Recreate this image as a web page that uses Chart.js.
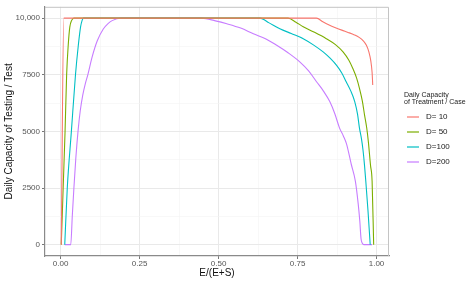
<!DOCTYPE html>
<html>
<head>
<meta charset="utf-8">
<script src="https://cdn.jsdelivr.net/npm/chart.js@4/dist/chart.umd.min.js"></script>
<style>
html,body{margin:0;padding:0;background:#fff;}
#c{display:block;}
</style>
</head>
<body>
<canvas id="c" width="474" height="284"></canvas>
<script>
// ---- Data ----
const seriesNames = ["D= 10", "D= 50", "D=100", "D=200"];
const seriesColors = ["#F8766D", "#7CAE00", "#00BFC4", "#C77CFF"];

const d10X = [0.002, 0.010, 0.81, 0.83, 0.85, 0.87, 0.89, 0.91, 0.93, 0.945, 0.958, 0.968, 0.976, 0.982, 0.986, 0.988];
const d10Y = [0, 10000, 10000, 9840, 9700, 9580, 9470, 9370, 9260, 9150, 9000, 8800, 8500, 8100, 7600, 7050];

const d50X = [0.002, 0.008, 0.014, 0.019, 0.024, 0.029, 0.035, 0.042, 0.72, 0.745, 0.768, 0.80, 0.841, 0.87, 0.894, 0.912, 0.925, 0.937, 0.946, 0.955, 0.962, 0.969, 0.974, 0.981, 0.986, 0.991];
const d50Y = [0, 2500, 5000, 7500, 8800, 9600, 9900, 10000, 10000, 9820, 9620, 9400, 9092, 8830, 8509, 8150, 7778, 7350, 6900, 6350, 5732, 5150, 4561, 3500, 2807, 0];

const d100X = [0.013, 0.021, 0.034, 0.047, 0.056, 0.063, 0.068, 0.072, 0.631, 0.66, 0.694, 0.73, 0.768, 0.80, 0.831, 0.853, 0.873, 0.89, 0.904, 0.918, 0.931, 0.940, 0.946, 0.952, 0.957, 0.962, 0.966, 0.973, 0.980];
const d100Y = [0, 2500, 5000, 7500, 8800, 9600, 9900, 10000, 10000, 9790, 9532, 9320, 9092, 8820, 8509, 8230, 7924, 7580, 7193, 6800, 6316, 5750, 5145, 4700, 4200, 3500, 2807, 1500, 0];

const d200X = [0.013, 0.032, 0.037, 0.042, 0.048, 0.055, 0.062, 0.070, 0.078, 0.086, 0.100, 0.116, 0.135, 0.150, 0.163, 0.190, 0.447, 0.49, 0.526, 0.57, 0.610, 0.65, 0.684, 0.72, 0.757, 0.785, 0.810, 0.832, 0.852, 0.868, 0.883, 0.895, 0.905, 0.920, 0.933, 0.942, 0.947, 0.951, 0.955, 0.960, 0.986];
const d200Y = [0, 0, 1300, 2500, 3800, 5000, 5900, 6600, 7100, 7500, 8300, 9000, 9520, 9760, 9890, 10000, 10000, 9880, 9751, 9560, 9311, 9080, 8801, 8470, 8070, 7670, 7193, 6780, 6316, 5780, 5145, 4800, 4450, 3550, 2807, 1800, 1053, 263, 60, 0, 0];

const xTicks = [0, 0.125, 0.25, 0.375, 0.5, 0.625, 0.75, 0.875, 1.0];
const xTickLabels = {"0": "0.00", "0.25": "0.25", "0.5": "0.50", "0.75": "0.75", "1": "1.00"};
const yTicks = [0, 1250, 2500, 3750, 5000, 6250, 7500, 8750, 10000];
const yTickLabels = {"0": "0", "2500": "2500", "5000": "5000", "7500": "7500", "10000": "10,000"};

const xTitle = "E/(E+S)";
const yTitle = "Daily Capacity of Testing / Test";
const legendTitle = ["Daily Capacity", "of Treatment / Case"];

// ---- Build chart ----
const allX = [d10X, d50X, d100X, d200X];
const allY = [d10Y, d50Y, d100Y, d200Y];
const datasets = seriesNames.map((n, i) => ({
  label: n,
  data: allX[i].map((x, j) => ({x: x, y: allY[i][j]})),
  borderColor: seriesColors[i],
  backgroundColor: seriesColors[i],
  borderWidth: 1.1,
  pointRadius: 0,
  showLine: true,
  cubicInterpolationMode: 'monotone',
  fill: false
}));

const FONT = "'Liberation Sans', Arial, sans-serif";
const isMajorX = v => xTickLabels[String(v)] !== undefined;
const isMajorY = v => yTickLabels[String(v)] !== undefined;

const panelBorder = {
  id: 'panelBorder',
  afterDatasetsDraw(chart) {
    const {ctx, chartArea: a} = chart;
    ctx.save();
    ctx.strokeStyle = '#c4c4c4';
    ctx.lineWidth = 1;
    ctx.beginPath();
    ctx.moveTo(a.left, a.top + 0.5);
    ctx.lineTo(a.right - 0.5, a.top + 0.5);
    ctx.lineTo(a.right - 0.5, a.bottom);
    ctx.stroke();
    ctx.restore();
  }
};

const customLegend = {
  id: 'customLegend',
  afterDraw(chart) {
    const ctx = chart.ctx;
    ctx.save();
    ctx.fillStyle = '#1a1a1a';
    ctx.font = "7px " + FONT;
    ctx.textBaseline = 'middle';
    ctx.textAlign = 'left';
    ctx.fillText(legendTitle[0], 404, 95);
    ctx.fillText(legendTitle[1], 404, 102.5);
    ctx.font = "8px " + FONT;
    const ys = [117, 132, 147, 162];
    seriesNames.forEach((n, i) => {
      ctx.strokeStyle = seriesColors[i];
      ctx.lineWidth = 1.2;
      ctx.beginPath();
      ctx.moveTo(407, ys[i]);
      ctx.lineTo(419, ys[i]);
      ctx.stroke();
      ctx.fillStyle = '#1a1a1a';
      ctx.fillText(n, 426, ys[i]);
    });
    ctx.restore();
  }
};

new Chart(document.getElementById('c'), {
  type: 'scatter',
  data: {datasets},
  options: {
    responsive: false,
    animation: false,
    devicePixelRatio: 1,
    layout: {padding: {left: 0, right: 85, top: 5, bottom: 0}},
    plugins: {legend: {display: false}, tooltip: {enabled: false}},
    scales: {
      x: {
        type: 'linear',
        min: -0.0495,
        max: 1.0395,
        afterBuildTicks: s => { s.ticks = xTicks.map(v => ({value: v})); },
        afterFit: s => { s.height = 28; },
        ticks: {
          autoSkip: false,
          maxRotation: 0,
          padding: 0,
          color: '#555555',
          font: {family: FONT, size: 8},
          callback: v => xTickLabels[String(v)] || ''
        },
        grid: {
          drawTicks: true,
          tickLength: 3,
          lineWidth: c => (c.tick && isMajorX(c.tick.value)) ? 1 : 0.6,
          color: c => (c.tick && isMajorX(c.tick.value)) ? '#e9e9e9' : '#f3f3f3',
          tickColor: c => (c.tick && isMajorX(c.tick.value)) ? '#777777' : 'rgba(0,0,0,0)'
        },
        border: {display: true, color: '#8a8a8a', width: 1.2},
        title: {
          display: true,
          text: xTitle,
          color: '#111111',
          font: {family: FONT, size: 10},
          padding: {top: 0, bottom: 5}
        }
      },
      y: {
        type: 'linear',
        min: -500,
        max: 10500,
        afterBuildTicks: s => { s.ticks = yTicks.map(v => ({value: v})); },
        afterFit: s => { s.width = 45; },
        ticks: {
          autoSkip: false,
          padding: 2,
          color: '#555555',
          font: {family: FONT, size: 8},
          callback: v => yTickLabels[String(v)] || ''
        },
        grid: {
          drawTicks: true,
          tickLength: 3,
          lineWidth: c => (c.tick && isMajorY(c.tick.value)) ? 1 : 0.6,
          color: c => (c.tick && isMajorY(c.tick.value)) ? '#e9e9e9' : '#f3f3f3',
          tickColor: c => (c.tick && isMajorY(c.tick.value)) ? '#777777' : 'rgba(0,0,0,0)'
        },
        border: {display: true, color: '#8a8a8a', width: 1.2},
        title: {
          display: true,
          text: yTitle,
          color: '#111111',
          font: {family: FONT, size: 10},
          padding: {top: 3, bottom: 0}
        }
      }
    }
  },
  plugins: [panelBorder, customLegend]
});
</script>
</body>
</html>
